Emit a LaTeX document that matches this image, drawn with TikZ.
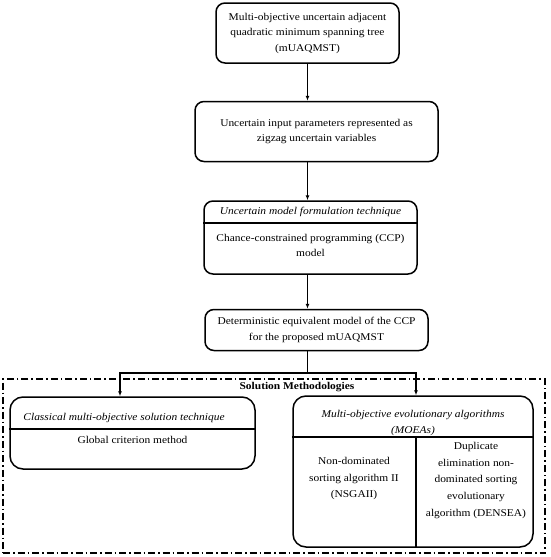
\documentclass[tikz,border=0pt]{standalone}
\usepackage{fontspec}
\setmainfont{Liberation Serif}[FakeStretch=1.1]
\usetikzlibrary{positioning,calc}
\usetikzlibrary{arrows.meta}

\newcommand{\boxfont}{\fontsize{10.4}{15.5}\selectfont}

\begin{document}
\begin{tikzpicture}[x=1pt,y=-1pt,
         stage/.style = {draw,line width=1.5pt,rounded corners=9pt,align=center,
            inner sep=0pt,font=\boxfont},
         tablet/.style = {draw,line width=1.5pt,rounded corners=13pt,inner sep=0pt},
         part/.style = {align=center,inner sep=0pt,font=\boxfont},
         rule/.style = {line width=1.1pt},
         flow/.style = {line width=1.4pt,-{Latex[length=5pt,width=4pt]}},
         frame/.style = {draw,line width=1.6pt,
            dash pattern=on 7pt off 3pt on 1.5pt off 3pt,inner sep=0pt}
]
   \useasboundingbox (0,0) rectangle (550,557);

   % main chain
   \node[stage,minimum width=183pt,minimum height=60pt] (uaqmst) at (307.5,33)
      {Multi-objective uncertain adjacent\\quadratic minimum spanning tree\\(mUAQMST)};
   \node[stage,minimum width=243pt,minimum height=60pt,below=37pt of uaqmst,
      xshift=9pt] (zigzag)
      {Uncertain input parameters represented as\\zigzag uncertain variables};
   \node[stage,minimum width=213pt,minimum height=73pt,below=38pt of zigzag,
      xshift=-6pt] (ccp) {};
   \node[stage,minimum width=223pt,minimum height=41pt,below=34pt of ccp,
      xshift=6pt] (detmodel)
      {Deterministic equivalent model of the CCP\\for the proposed mUAQMST};

   % uncertain model formulation
   \node[part,font=\boxfont\itshape] (ccphead) at (310.5,212)
      {Uncertain model formulation technique};
   \node[part] (ccpbody) at (310.5,245.5)
      {Chance-constrained programming (CCP)\\model};
   \draw[rule] (ccp.west |- 0,223) -- (ccp.east |- 0,223);

   % solution methodologies
   \node[frame,minimum width=542pt,minimum height=174pt] (solution) at (274,466) {};
   \node[font=\boxfont\bfseries,inner sep=0pt] (soltitle) at (297,387)
      {Solution Methodologies};

   \node[tablet,minimum width=245pt,minimum height=72pt] (classic) at (132.5,433) {};
   \node[part,font=\boxfont\itshape] (classhead) at (124,418)
      {Classical multi-objective solution technique};
   \node[part] (classbody) at (132.5,440) {Global criterion method};
   \draw[rule] (classic.west |- 0,429) -- (classic.east |- 0,429);

   \node[tablet,minimum width=240pt,minimum height=151pt] (moea) at (413,471.5) {};
   \node[part,font=\boxfont\itshape] (moeahead) at (413,423)
      {Multi-objective evolutionary algorithms\\(MOEAs)};
   \coordinate (split) at (416,437);
   \draw[rule] (moea.west |- split) -- (moea.east |- split);
   \draw[rule] (split) -- (split |- moea.south);
   \node[part,font=\fontsize{10.4}{16.7}\selectfont] (nsga) at (354,478.5)
      {Non-dominated\\sorting algorithm II\\(NSGAII)};
   \node[part,font=\fontsize{10.4}{16.7}\selectfont] (densea) at (476,480.5)
      {Duplicate\\elimination non-\\dominated sorting\\evolutionary\\algorithm (DENSEA)};

   % connectors
   \foreach \a/\b in {uaqmst/zigzag,zigzag/ccp,ccp/detmodel}
      \draw[flow] (\a.south -| uaqmst.south) -- (\b.north -| uaqmst.south);
   \coordinate (fork) at (uaqmst.south |- 0,373);
   \draw[line width=1.4pt] (detmodel.south -| uaqmst.south) -- (fork);
   \draw[flow] (fork) -| ([xshift=-12.5pt]classic.north);
   \draw[flow] (fork) -| (split |- moea.north);
\end{tikzpicture}
\end{document}
